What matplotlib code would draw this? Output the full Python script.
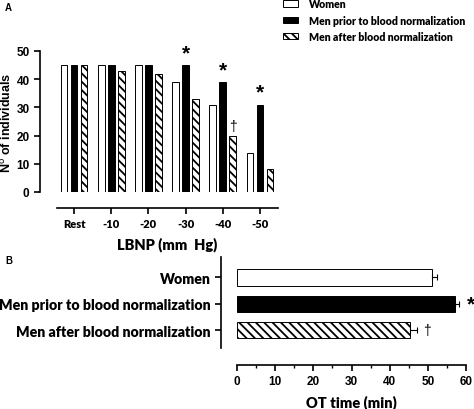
import numpy as np
import matplotlib
matplotlib.use("Agg")
import matplotlib.pyplot as plt
from matplotlib.patches import Patch

# panel A data
lbnp = ["Rest", "-10", "-20", "-30", "-40", "-50"]
women = [45, 45, 45, 39, 31, 14]
men_prior = [45, 45, 45, 45, 39, 31]
men_after = [45, 43, 42, 33, 20, 8]

# panel B data
groups = ["Women", "Men prior to blood normalization", "Men after blood normalization"]
ot_time = [51.0, 57.2, 45.4]
ot_err = [1.3, 0.9, 1.8]

series = ["Women", "Men prior to blood normalization", "Men after blood normalization"]

HUM = "Lato"
HW = "heavy"
NUM = "Liberation Sans"
plt.rcParams["hatch.linewidth"] = 1.3
HATCH = "\\\\\\\\"

fig = plt.figure(figsize=(4.74, 4.10), dpi=100)

def px(n):
    return n * 72 / 100.0

# ---------- panel A ----------
axA = fig.add_axes([57/474, 1-193/410, 221/474, 141/410])
x = np.arange(len(lbnp))
w, off = 0.18, 0.27
axA.bar(x - off, women, w, color="white", edgecolor="black", lw=0.7)
axA.bar(x, men_prior, w, color="black", edgecolor="black", lw=0.7)
axA.bar(x + off, men_after, w, color="white", edgecolor="black", lw=0.7, hatch=HATCH)
axA.set_xlim(-0.457, 5.484)
axA.set_ylim(0, 50)
axA.spines[["top", "right"]].set_visible(False)
axA.spines["left"].set_position(("outward", px(17)))
axA.spines["bottom"].set_position(("outward", px(16)))
axA.spines["left"].set_linewidth(1.2)
axA.spines["bottom"].set_linewidth(1.2)
axA.set_yticks(range(0, 51, 10))
axA.set_xticks(x)
axA.set_xticklabels(lbnp, fontfamily=HUM, fontweight=HW, fontsize=8)
for t in axA.get_yticklabels():
    t.set_fontfamily(NUM); t.set_fontweight("bold"); t.set_fontsize(8.5)
axA.tick_params(width=1.2, length=4)
axA.set_xlabel("LBNP (mm  Hg)", fontfamily=HUM, fontweight=HW, fontsize=10.5, labelpad=5)
axA.set_ylabel("N$^{\\rm o}$ of individuals", fontfamily=NUM, fontweight="bold", fontsize=9, labelpad=2)

# significance marks
for i in [3, 4, 5]:
    axA.text(x[i], men_prior[i] + 1.0, "*", ha="center", va="bottom", fontsize=15, fontfamily=NUM, fontweight="bold")
axA.text(x[4] + off, men_after[4] + 1.0, "\u2020", ha="center", va="bottom", fontsize=10, fontfamily=NUM)

# legend
handles = [Patch(facecolor="white", edgecolor="black", lw=0.7),
           Patch(facecolor="black", edgecolor="black", lw=0.7),
           Patch(facecolor="white", edgecolor="black", lw=0.7, hatch=HATCH)]
fig.legend(handles, series, loc="upper left", bbox_to_anchor=(273/474, 1.025), frameon=False,
           prop={"family": HUM, "weight": HW, "size": 7.6}, handlelength=1.5, handleheight=0.5,
           labelspacing=0.5, handletextpad=1.0)

fig.text(5/474, 1-8/410, "A", fontfamily=NUM, fontweight="bold", fontsize=7, va="center")
fig.text(5/474, 1-261/410, "B", fontfamily=NUM, fontweight="bold", fontsize=7, va="center")

# ---------- panel B ----------
axB = fig.add_axes([237/474, 1-349/410, 229/474, 91/410])
yb = np.arange(len(groups))[::-1]
axB.barh(yb[0], ot_time[0], 0.62, color="white", edgecolor="black", lw=0.7)
axB.barh(yb[1], ot_time[1], 0.62, color="black", edgecolor="black", lw=0.7)
axB.barh(yb[2], ot_time[2], 0.62, color="white", edgecolor="black", lw=0.7, hatch=HATCH)
for yy, v, e in zip(yb, ot_time, ot_err):
    axB.errorbar(v, yy, xerr=[[0], [e]], fmt="none", ecolor="black", elinewidth=0.8, capsize=2, capthick=0.8)
axB.set_xlim(0, 60)
axB.set_ylim(-0.684, 2.78)
axB.spines[["top", "right"]].set_visible(False)
axB.spines["left"].set_position(("outward", px(16)))
axB.spines["bottom"].set_position(("outward", px(17)))
axB.spines["left"].set_linewidth(1.2)
axB.spines["bottom"].set_linewidth(1.2)
axB.set_yticks(yb)
axB.set_yticklabels(groups, fontfamily=HUM, fontweight=HW, fontsize=10.2)
axB.set_xticks(range(0, 61, 10))
axB.set_xticks(range(5, 60, 10), minor=True)
for t in axB.get_xticklabels():
    t.set_fontfamily(NUM); t.set_fontweight("bold"); t.set_fontsize(8.5)
axB.tick_params(width=1.2, length=4)
axB.tick_params(axis="x", which="minor", width=1.0, length=2.5)
axB.set_xlabel("OT time (min)", fontfamily=HUM, fontweight=HW, fontsize=10.5, labelpad=5)
axB.text(60.3, yb[1], "*", ha="left", va="center", fontsize=15, fontfamily=NUM, fontweight="bold", clip_on=False)
axB.text(49.7, yb[2], "\u2020", ha="center", va="center", fontsize=10, fontfamily=NUM)

fig.savefig("out.png", dpi=100)
